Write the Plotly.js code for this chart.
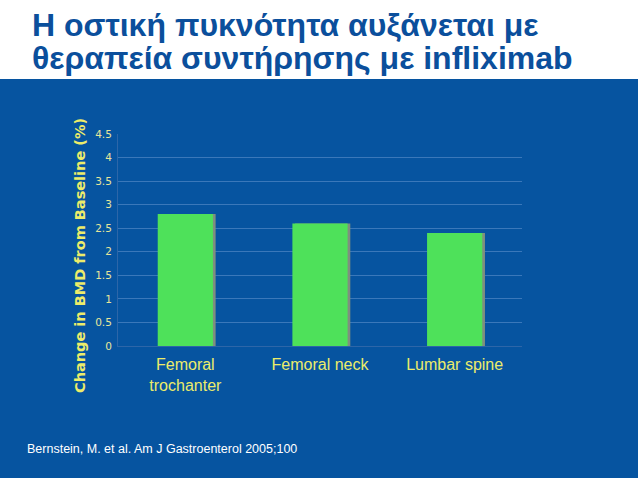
<!DOCTYPE html>
<html>
<head>
<meta charset="utf-8">
<script src="https://cdn.plot.ly/plotly-3.0.1.min.js"></script>
<style>
  body { margin: 0; padding: 0; background: #ffffff; }
  #chart { width: 638px; height: 478px; }
</style>
</head>
<body>
<div id="chart"></div>
<script>
// categories and values
const categories = ["Femoral<br>trochanter", "Femoral neck", "Lumbar spine"];
const bmdChange = [2.8, 2.6, 2.4];
const yTicks = [0, 0.5, 1, 1.5, 2, 2.5, 3, 3.5, 4, 4.5];
const titleLines = ["Η οστική πυκνότητα αυξάνεται με", "θεραπεία συντήρησης με infliximab"];

const blue = "#0654a0";
const yellow = "#ecec6a";

const barWidth = 0.41;

// plot area in pixels: x 118..522, y 134..346
const margin = { l: 118, r: 116, t: 134, b: 132 };
const plotW = 638 - margin.l - margin.r;
const plotH = 478 - margin.t - margin.b;

// pixel -> paper helpers for the slide decorations
function px(x) { return (x - margin.l) / plotW; }
function py(y) { return (478 - y - margin.b) / plotH; }

var shadow = {
  type: "bar",
  x: categories,
  y: bmdChange,
  width: barWidth,
  offset: -barWidth / 2 + 0.02,
  marker: { color: "#7f8f7f" },
  hoverinfo: "skip",
};

var bars = {
  type: "bar",
  x: categories,
  y: bmdChange,
  width: barWidth,
  offset: -barWidth / 2,
  marker: { color: "#4ee15a" },
};

var titleFont = { family: "Liberation Sans, Arial, sans-serif", size: 32, color: "#0b4f9c" };

var layout = {
  width: 638,
  height: 478,
  margin: margin,
  paper_bgcolor: blue,
  plot_bgcolor: blue,
  showlegend: false,
  barmode: "overlay",
  xaxis: {
    tickfont: { family: "Liberation Sans, Arial, sans-serif", size: 16, color: yellow },
    showgrid: false,
    showline: true,
    linecolor: "#2d66a8",
    linewidth: 1,
    ticks: "",
    ticklabelstandoff: 4,
    fixedrange: true,
  },
  yaxis: {
    range: [0, 4.5],
    tickvals: yTicks,
    ticktext: yTicks.map(String),
    tickfont: { family: "DejaVu Sans, Verdana, sans-serif", size: 10.5, color: "#e6e69a" },
    gridcolor: "#3a78ba",
    gridwidth: 1,
    zeroline: false,
    showline: true,
    linecolor: "#2d66a8",
    ticks: "",
    ticklabelstandoff: 3,
    fixedrange: true,
  },
  shapes: [
    {
      // white header band
      type: "rect",
      xref: "paper",
      yref: "paper",
      x0: px(0),
      x1: px(638),
      y0: py(79),
      y1: py(0),
      fillcolor: "#ffffff",
      line: { width: 0 },
      layer: "below",
    },
  ],
  annotations: [
    {
      text: "<b>" + titleLines[0] + "</b>",
      xref: "paper", yref: "paper",
      x: px(30), y: py(25),
      xanchor: "left", yanchor: "middle",
      showarrow: false,
      font: titleFont,
    },
    {
      text: "<b>" + titleLines[1] + "</b>",
      xref: "paper", yref: "paper",
      x: px(30), y: py(58),
      xanchor: "left", yanchor: "middle",
      showarrow: false,
      font: titleFont,
    },
    {
      text: "<b>Change in BMD from Baseline (%)</b>",
      xref: "paper", yref: "paper",
      x: px(80), y: py(256),
      xanchor: "center", yanchor: "middle",
      textangle: -90,
      showarrow: false,
      font: { family: "DejaVu Sans, Verdana, sans-serif", size: 14.5, color: yellow },
    },
    {
      text: "Bernstein, M. et al. Am J Gastroenterol 2005;100",
      xref: "paper", yref: "paper",
      x: px(25), y: py(449),
      xanchor: "left", yanchor: "middle",
      showarrow: false,
      font: { family: "Liberation Sans, Arial, sans-serif", size: 12.5, color: "#ffffff" },
    },
  ],
};

var config = { displayModeBar: false, staticPlot: true };

Plotly.newPlot("chart", [shadow, bars], layout, config);
</script>
</body>
</html>
